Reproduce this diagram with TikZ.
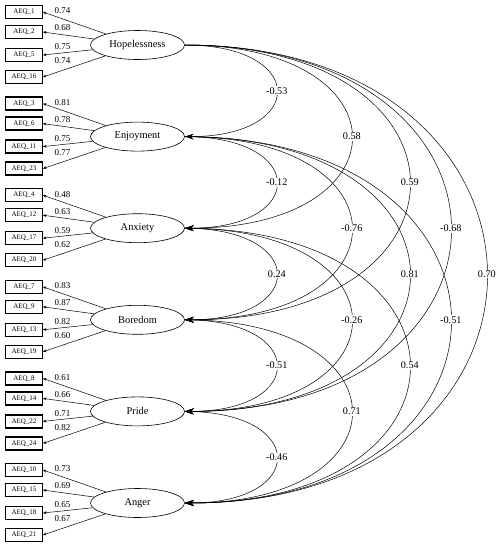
\documentclass[tikz,border=0pt]{standalone}
\usepackage{fontspec}
\setmainfont{Liberation Serif}
\usetikzlibrary{arrows.meta,shapes.geometric}
\begin{document}
\begin{tikzpicture}[x=1pt,y=-1pt,
 lat/.style={ellipse,draw,line width=0.6pt,minimum width=94pt,minimum height=29pt,inner sep=0pt,font=\fontsize{10.4}{12}\selectfont},
 ind/.style={rectangle,draw,line width=1.3pt,minimum width=36.5pt,minimum height=13pt,inner sep=0pt,font=\fontsize{7}{8}\selectfont},
 load/.style={line width=0.5pt,-{Stealth[length=3.5pt,width=2.8pt]}},
 ldlab/.style={font=\fontsize{9}{10}\selectfont,inner sep=0pt},
 cor/.style={line width=0.5pt,-{Stealth[length=9pt,width=6pt]}},
 corlab/.style={fill=white,inner sep=1pt,font=\fontsize{10.2}{12}\selectfont}]
\useasboundingbox (0,0) rectangle (498,550);
\fill[white] (0,0) rectangle (498,550);

% latent factors
\node[lat] (H) at (137.5,45) {Hopelessness};
\node[lat] (E) at (137.5,136.6) {Enjoyment};
\node[lat] (A) at (137.5,228.2) {Anxiety};
\node[lat] (B) at (137.5,319.8) {Boredom};
\node[lat] (P) at (137.5,411.4) {Pride};
\node[lat] (G) at (137.5,503) {Anger};

% indicators
\foreach \f/\yc/\lst in {
  H/45/{1/1/0.74,2/2/0.68,3/5/0.75,4/16/0.74},
  E/136.6/{1/3/0.81,2/6/0.78,3/11/0.75,4/23/0.77},
  A/228.2/{1/4/0.48,2/12/0.63,3/17/0.59,4/20/0.62},
  B/319.8/{1/7/0.83,2/9/0.87,3/13/0.82,4/19/0.60},
  P/411.4/{1/8/0.61,2/14/0.66,3/22/0.71,4/24/0.82},
  G/503/{1/10/0.73,2/15/0.69,3/18/0.65,4/21/0.67}}{
  \foreach \k/\it/\ld in \lst {
    \ifcase\k\or
      \def\dy{-33}\def\ly{-34}\or
      \def\dy{-13}\def\ly{-17}\or
      \def\dy{10}\def\ly{2}\or
      \def\dy{32}\def\ly{16}\fi
    \node[ind] (\f\k) at (24,{\yc+\dy}) {AEQ\_\it};
    \draw[load] (\f) -- (\f\k.east);
    \node[ldlab] at (62.5,{\yc+\ly}) {\ld};
  }
}

% correlations
\foreach \a/\b/\c/\v in {
  H/E/122.7/-0.53, H/A/222.7/0.58, H/B/300/0.59, H/P/354.7/-0.68, H/G/402.7/0.70,
  E/A/122.7/-0.12, E/B/222.7/-0.76, E/P/300/0.81, E/G/354.7/-0.51,
  A/B/122.7/0.24, A/P/222.7/-0.26, A/G/300/0.54,
  B/P/122.7/-0.51, B/G/222.7/0.71,
  P/G/122.7/-0.46}{
  \draw[cor] (\a.east) .. controls +(\c,0) and +(\c,0) .. (\b.east) node[pos=0.5,corlab] {\v};
}
\end{tikzpicture}
\end{document}
